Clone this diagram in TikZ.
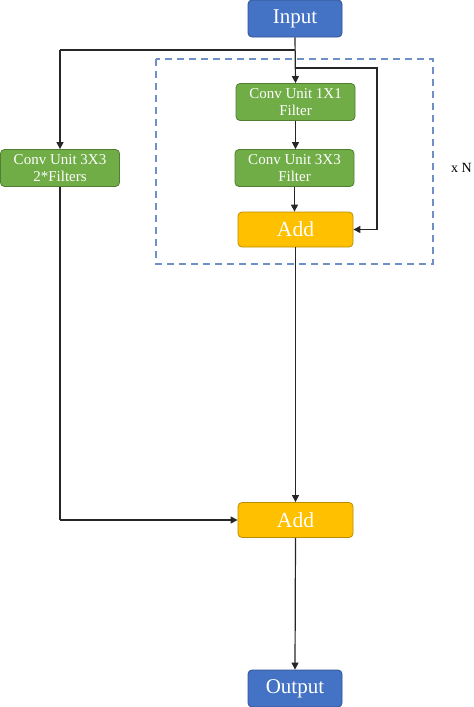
\documentclass[tikz,border=0pt]{standalone}
\usepackage{fontspec}
\setmainfont{Liberation Serif}
\usetikzlibrary{arrows.meta}
\definecolor{blueF}{HTML}{4472C4}
\definecolor{blueD}{HTML}{2F528F}
\definecolor{greenF}{HTML}{70AD47}
\definecolor{greenD}{HTML}{507E32}
\definecolor{orangeF}{HTML}{FFC000}
\definecolor{orangeD}{HTML}{BC8C00}
\definecolor{dashC}{HTML}{6F8FC7}
\begin{document}
\begin{tikzpicture}[x=1pt,y=-1pt,
  box/.style={rounded corners=4pt,line width=0.8pt,text=white,align=center,inner sep=0pt,anchor=center},
  io/.style={box,fill=blueF,draw=blueD,minimum width=94pt,minimum height=37pt,font=\fontsize{21}{23}\selectfont},
  conv/.style={box,fill=greenF,draw=greenD,minimum width=119pt,minimum height=37pt,font=\fontsize{15}{17}\selectfont},
  addb/.style={box,fill=orangeF,draw=orangeD,minimum width=115pt,minimum height=35pt,font=\fontsize{21.5}{23}\selectfont},
  arr/.style={-{Triangle[length=7pt,width=7pt]},line width=1.2pt,black!85},
  ln/.style={line width=1.2pt,black!85}]
\useasboundingbox (0,0) rectangle (474,707);
\draw[dashC,dashed,line width=1.1pt,dash pattern=on 7pt off 5pt] (156,59) rectangle (433,264);
\node[io] (in) at (295,18.5) {Input};
\node[conv] (c1) at (295.5,102) {Conv Unit 1X1\\Filter};
\node[conv] (c2) at (294.5,168) {Conv Unit 3X3\\Filter};
\node[addb] (a1) at (295.5,229.5) {Add};
\node[conv] (cl) at (60,168) {Conv Unit 3X3\\2*Filters};
\node[addb] (a2) at (295.5,520) {Add};
\node[io] (out) at (295,688.5) {Output};
\node[anchor=west,font=\fontsize{14}{16}\selectfont,inner sep=0pt] (xn) at (451,168) {x N};
\coordinate (b1) at (295,50);
\coordinate (b1l) at (60,50);
\coordinate (b2) at (295,68);
\coordinate (b2r) at (377,68);
\coordinate (b2d) at (377,229.5);
\coordinate (b3) at (60,520);
\draw[arr] (in.south) -- (c1.north);
\draw[ln] (b1) -- (b1l);
\draw[arr] (b1l) -- (cl.north);
\draw[ln] (b2) -- (b2r) -- (b2d);
\draw[arr] (b2d) -- (a1.east);
\draw[arr] (c1.south) -- (c1.south|-c2.north);
\draw[arr] (c2.south) -- (c2.south|-a1.north);
\draw[arr] (a1.south) -- (a2.north);
\draw[ln] (cl.south) -- (b3);
\draw[arr] (b3) -- (a2.west);
\draw[arr] (a2.south) -- (out.north);
\end{tikzpicture}
\end{document}
